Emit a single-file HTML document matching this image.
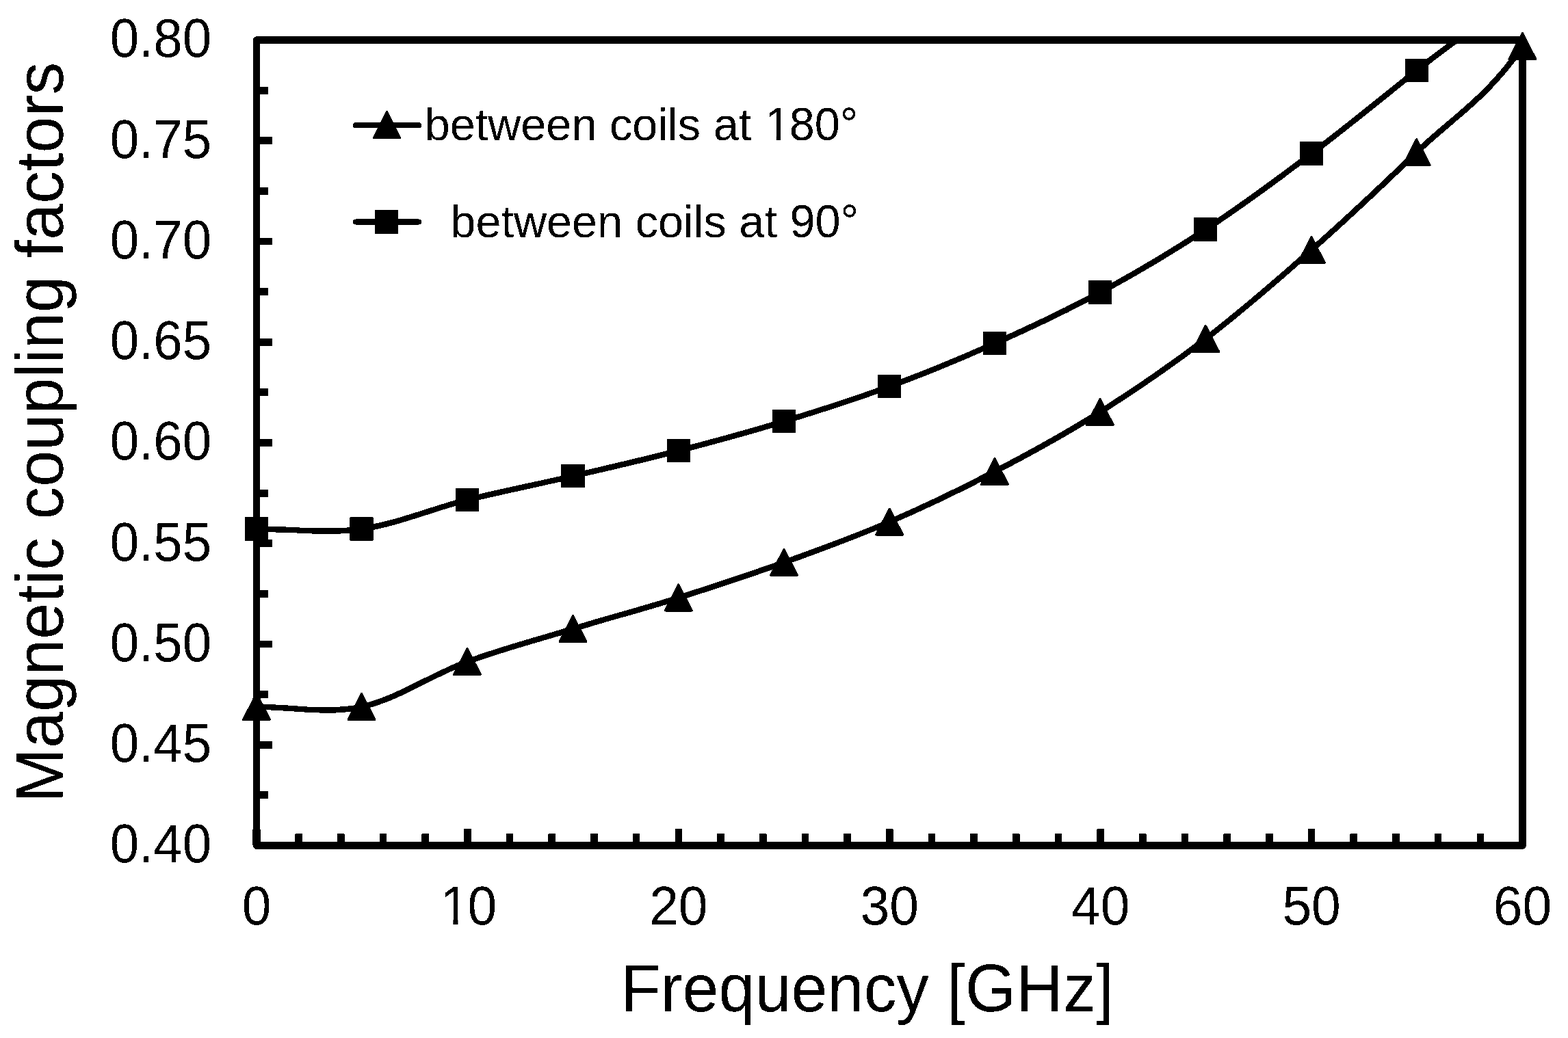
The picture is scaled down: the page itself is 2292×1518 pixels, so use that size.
<!DOCTYPE html>
<html lang="en"><head><meta charset="utf-8"><title>Magnetic coupling factors vs frequency</title>
<style>html,body{margin:0;padding:0;background:#fff;overflow:hidden;}svg{display:block;}text{font-family:"Liberation Sans",Arial,sans-serif;fill:#000;}</style>
</head><body>
<svg width="2292" height="1518" viewBox="0 0 2292 1518">
<rect x="0" y="0" width="2292" height="1518" fill="#fff"/>
<defs><filter id="bin" filterUnits="userSpaceOnUse" x="0" y="0" width="2292" height="1518" color-interpolation-filters="sRGB"><feComponentTransfer><feFuncA type="discrete" tableValues="0 1"/></feComponentTransfer></filter></defs>
<g filter="url(#bin)">
<defs><clipPath id="plot"><rect x="375.00" y="58.50" width="1850.50" height="1178.00"/></clipPath></defs>
<g clip-path="url(#plot)"><g transform="translate(0 0.25)" fill="none" stroke="#000" stroke-width="8.40" stroke-linejoin="round">
<path d="M375.00 1033.50 C426.17 1033.47 477.17 1044.42 528.50 1033.40 C579.83 1022.38 631.50 986.40 683.00 967.40 C734.50 948.40 786.03 934.98 837.50 919.40 C888.97 903.82 940.38 890.08 991.80 873.90 C1043.22 857.72 1094.60 840.78 1146.00 822.30 C1197.40 803.82 1248.87 785.13 1300.20 763.00 C1351.53 740.87 1402.72 716.27 1454.00 689.50 C1505.28 662.73 1556.53 634.77 1607.90 602.40 C1659.27 570.03 1710.68 534.80 1762.20 495.30 C1813.72 455.80 1865.60 410.87 1917.00 365.40 C1968.40 319.93 2019.20 272.17 2070.60 222.50 C2122.00 172.83 2173.90 143.25 2225.40 67.40 C2276.90 -8.45 2328.20 -132.60 2379.60 -232.60"/>
<path d="M375.00 773.30 C426.17 773.30 477.17 780.38 528.50 773.30 C579.83 766.22 631.50 743.68 683.00 730.80 C734.50 717.92 786.03 707.98 837.50 696.00 C888.97 684.02 940.38 672.25 991.80 658.90 C1043.22 645.55 1094.60 631.57 1146.00 615.90 C1197.40 600.23 1248.87 583.88 1300.20 564.90 C1351.53 545.92 1402.72 524.90 1454.00 502.00 C1505.28 479.10 1556.53 455.25 1607.90 427.50 C1659.27 399.75 1710.68 369.33 1762.20 335.50 C1813.72 301.67 1865.60 263.25 1917.00 224.50 C1968.40 185.75 2019.20 143.90 2070.60 103.00 C2122.00 62.10 2173.90 29.08 2225.40 -20.90 C2276.90 -70.88 2328.20 -138.23 2379.60 -196.90"/>
</g></g>
<path d="M375.00 58.50H398.30 M375.00 132.13H392.30 M375.00 205.75H398.30 M375.00 279.37H392.30 M375.00 353.00H398.30 M375.00 426.62H392.30 M375.00 500.25H398.30 M375.00 573.88H392.30 M375.00 647.50H398.30 M375.00 721.12H392.30 M375.00 794.75H398.30 M375.00 868.38H392.30 M375.00 942.00H398.30 M375.00 1015.62H392.30 M375.00 1089.25H398.30 M375.00 1162.88H392.30 M375.00 1236.50H398.30 M375.00 1236.50V1212.20 M436.68 1236.50V1219.20 M498.37 1236.50V1219.20 M560.05 1236.50V1219.20 M621.73 1236.50V1219.20 M683.42 1236.50V1212.20 M745.10 1236.50V1219.20 M806.78 1236.50V1219.20 M868.47 1236.50V1219.20 M930.15 1236.50V1219.20 M991.83 1236.50V1212.20 M1053.52 1236.50V1219.20 M1115.20 1236.50V1219.20 M1176.88 1236.50V1219.20 M1238.57 1236.50V1219.20 M1300.25 1236.50V1212.20 M1361.93 1236.50V1219.20 M1423.62 1236.50V1219.20 M1485.30 1236.50V1219.20 M1546.98 1236.50V1219.20 M1608.67 1236.50V1212.20 M1670.35 1236.50V1219.20 M1732.03 1236.50V1219.20 M1793.72 1236.50V1219.20 M1855.40 1236.50V1219.20 M1917.08 1236.50V1212.20 M1978.77 1236.50V1219.20 M2040.45 1236.50V1219.20 M2102.13 1236.50V1219.20 M2163.82 1236.50V1219.20 M2225.50 1236.50V1212.20" stroke="#000" stroke-width="10.60" fill="none"/>
<rect x="375.00" y="58.50" width="1850.50" height="1178.00" fill="none" stroke="#000" stroke-width="10.60" stroke-linejoin="round"/>
<g fill="#000" stroke="#000" stroke-width="3.0" stroke-linejoin="round">
<polygon points="375.00,1014.50 394.50,1052.50 355.50,1052.50"/>
<polygon points="528.50,1014.40 548.00,1052.40 509.00,1052.40"/>
<polygon points="683.00,948.40 702.50,986.40 663.50,986.40"/>
<polygon points="837.50,900.40 857.00,938.40 818.00,938.40"/>
<polygon points="991.80,854.90 1011.30,892.90 972.30,892.90"/>
<polygon points="1146.00,803.30 1165.50,841.30 1126.50,841.30"/>
<polygon points="1300.20,744.00 1319.70,782.00 1280.70,782.00"/>
<polygon points="1454.00,670.50 1473.50,708.50 1434.50,708.50"/>
<polygon points="1607.90,583.40 1627.40,621.40 1588.40,621.40"/>
<polygon points="1762.20,476.30 1781.70,514.30 1742.70,514.30"/>
<polygon points="1917.00,346.40 1936.50,384.40 1897.50,384.40"/>
<polygon points="2070.60,203.50 2090.10,241.50 2051.10,241.50"/>
<polygon points="2225.40,48.40 2244.90,86.40 2205.90,86.40"/>
</g>
<g fill="#000">
<rect x="358.00" y="756.05" width="34.00" height="34.50"/>
<rect x="511.50" y="756.05" width="34.00" height="34.50"/>
<rect x="666.00" y="713.55" width="34.00" height="34.50"/>
<rect x="820.50" y="678.75" width="34.00" height="34.50"/>
<rect x="974.80" y="641.65" width="34.00" height="34.50"/>
<rect x="1129.00" y="598.65" width="34.00" height="34.50"/>
<rect x="1283.20" y="547.65" width="34.00" height="34.50"/>
<rect x="1437.00" y="484.75" width="34.00" height="34.50"/>
<rect x="1590.90" y="410.25" width="34.00" height="34.50"/>
<rect x="1745.20" y="318.25" width="34.00" height="34.50"/>
<rect x="1900.00" y="207.25" width="34.00" height="34.50"/>
<rect x="2053.60" y="85.75" width="34.00" height="34.50"/>
</g>
<g fill="#000"><rect x="516" y="178.9" width="100" height="8" rx="3.5"/><rect x="516" y="320.5" width="100" height="8" rx="3.5"/></g>
<g fill="#000" stroke="#000" stroke-width="3.0" stroke-linejoin="round"><polygon points="565.50,163.40 584.75,201.40 546.25,201.40"/></g>
<g fill="#000"><rect x="548.00" y="306.80" width="34.00" height="35.00"/></g>
<text x="0" y="0" font-size="76.30" text-anchor="end" transform="translate(309.18 83.27) scale(1 1.0350)">0.80</text>
<text x="0" y="0" font-size="76.30" text-anchor="end" transform="translate(309.18 230.52) scale(1 1.0350)">0.75</text>
<text x="0" y="0" font-size="76.30" text-anchor="end" transform="translate(309.18 377.77) scale(1 1.0350)">0.70</text>
<text x="0" y="0" font-size="76.30" text-anchor="end" transform="translate(309.18 525.02) scale(1 1.0350)">0.65</text>
<text x="0" y="0" font-size="76.30" text-anchor="end" transform="translate(309.18 672.27) scale(1 1.0350)">0.60</text>
<text x="0" y="0" font-size="76.30" text-anchor="end" transform="translate(309.18 819.52) scale(1 1.0350)">0.55</text>
<text x="0" y="0" font-size="76.30" text-anchor="end" transform="translate(309.18 966.77) scale(1 1.0350)">0.50</text>
<text x="0" y="0" font-size="76.30" text-anchor="end" transform="translate(309.18 1114.02) scale(1 1.0350)">0.45</text>
<text x="0" y="0" font-size="76.30" text-anchor="end" transform="translate(309.18 1261.27) scale(1 1.0350)">0.40</text>
<text x="0" y="0" font-size="76.80" text-anchor="middle" transform="translate(375.00 1352.20) scale(1 1.0350)">0</text>
<text x="0" y="0" font-size="76.80" transform="translate(0 1352.20) scale(1 1.0350)"><tspan x="643.20">1</tspan><tspan x="683.42">0</tspan></text>
<text x="0" y="0" font-size="76.80" text-anchor="middle" transform="translate(991.83 1352.20) scale(1 1.0350)">20</text>
<text x="0" y="0" font-size="76.80" text-anchor="middle" transform="translate(1300.25 1352.20) scale(1 1.0350)">30</text>
<text x="0" y="0" font-size="76.80" text-anchor="middle" transform="translate(1608.67 1352.20) scale(1 1.0350)">40</text>
<text x="0" y="0" font-size="76.80" text-anchor="middle" transform="translate(1917.08 1352.20) scale(1 1.0350)">50</text>
<text x="0" y="0" font-size="76.80" text-anchor="middle" transform="translate(2225.50 1352.20) scale(1 1.0350)">60</text>
<text x="0" y="0" font-size="95.4" transform="translate(907.38 1479.3) scale(1 1.03)">Frequency [GHz]</text>
<text x="0" y="0" font-size="95.5" transform="translate(91.9 1173.53) rotate(-90) scale(1 1.025)">Magnetic coupling factors</text>
<text x="620.67" y="204.85" font-size="66.60" text-anchor="start">between coils at </text>
<text x="0" y="0" font-size="66.60" transform="translate(0 204.85) scale(1 1.035)"><tspan x="1118.26">1</tspan><tspan x="1153.80">80°</tspan></text>
<text x="658.37" y="346.60" font-size="66.60" text-anchor="start">between coils at </text>
<text x="0" y="0" font-size="66.60" transform="translate(1154.46 346.6) scale(1 1.035)">90°</text>
<g fill="#fff"><rect x="647.83" y="1345.06" width="14.54" height="8.34"/><rect x="669.45" y="1345.06" width="14.09" height="8.34"/><rect x="1122.13" y="198.50" width="12.72" height="7.55"/><rect x="1141.04" y="198.50" width="12.35" height="7.55"/></g>
</g>
</svg></body></html>
